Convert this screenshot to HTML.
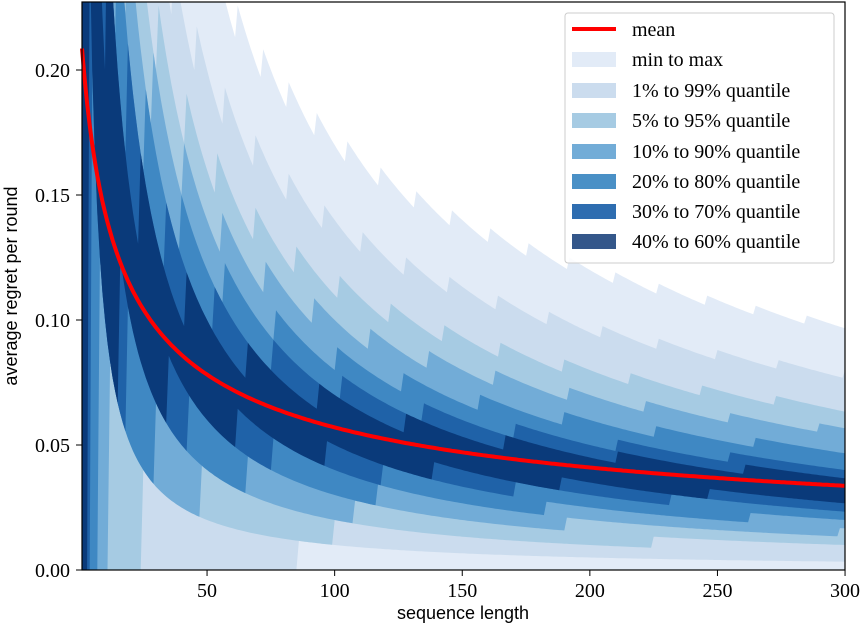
<!DOCTYPE html>
<html><head><meta charset="utf-8"><style>
html,body{margin:0;padding:0;background:#fff;}
svg{display:block;}
</style></head><body>
<svg id="s" width="863" height="633" xmlns="http://www.w3.org/2000/svg">
<g id="bands"></g>
<path id="mean" fill="none" stroke="#ff0000" stroke-width="4"/>
<rect x="82" y="2" width="763" height="568" fill="none" stroke="#000" stroke-width="1.2"/>
<g id="ticks" font-family="Liberation Serif, serif" font-size="20" fill="#000"></g>
<text x="463" y="619" font-family="Liberation Sans, sans-serif" font-size="18" text-anchor="middle">sequence length</text>
<text transform="translate(17,286) rotate(-90)" font-family="Liberation Sans, sans-serif" font-size="18" text-anchor="middle">average regret per round</text>
<g font-family="Liberation Serif, serif" font-size="20">
<rect x="565" y="13" width="269" height="250" rx="3" fill="#fff" fill-opacity="0.85" stroke="#ccc"/>
<line x1="572" y1="29" x2="616" y2="29" stroke="#ff0000" stroke-width="4"/>
<text x="632" y="36">mean</text>
<rect x="572" y="52" width="44" height="15" fill="#e2ebf7"/><text x="632" y="66">min to max</text>
<rect x="572" y="83" width="44" height="15" fill="#cbdcee"/><text x="632" y="97">1% to 99% quantile</text>
<rect x="572" y="113" width="44" height="15" fill="#a6cbe3"/><text x="632" y="127">5% to 95% quantile</text>
<rect x="572" y="144" width="44" height="15" fill="#72acd7"/><text x="632" y="158">10% to 90% quantile</text>
<rect x="572" y="174" width="44" height="15" fill="#4a90c6"/><text x="632" y="188">20% to 80% quantile</text>
<rect x="572" y="204" width="44" height="15" fill="#2e6db0"/><text x="632" y="218">30% to 70% quantile</text>
<rect x="572" y="234" width="44" height="15" fill="#34578a"/><text x="632" y="248">40% to 60% quantile</text>
</g>
</svg>
<script>
var X=function(n){return 79.45+2.552*n;};
var Y=function(v){return 570-2500*v;};
var bands=[
 [1.66,0,'#e2ebf7'],
 [1.33,0.108,'#cbdcee'],
 [1.09,0.2,'#a6cbe3'],
 [0.94,0.29,'#72acd7'],
 [0.80,0.37,'#3f88c3'],
 [0.69,0.46,'#1f62a8'],
 [0.62,0.51,'#0a3a7a']
];
var g=document.getElementById('bands'),ns='http://www.w3.org/2000/svg';
bands.forEach(function(b){
 var up=[],lo=[];
 for(var n=1;n<=300;n++){
  var u=Math.ceil(b[0]*Math.sqrt(n))/n; if(u>0.3)u=0.3;
  var l=b[1]>0?Math.floor(b[1]*Math.sqrt(n))/n:0;
  up.push(X(n).toFixed(1)+','+Y(u).toFixed(1));
  lo.push(X(n).toFixed(1)+','+Y(l).toFixed(1));
 }
 var p=document.createElementNS(ns,'path');
 p.setAttribute('d','M'+up.join('L')+'L'+lo.reverse().join('L')+'Z');
 p.setAttribute('fill',b[2]);
 g.appendChild(p);
});
var m=[];
for(var n=1;n<=300;n++){m.push(X(n).toFixed(1)+','+Y(0.59/Math.sqrt(n+7)).toFixed(1));}
document.getElementById('mean').setAttribute('d','M'+m.join('L'));
var w=document.createElementNS(ns,'rect');w.setAttribute('x',0);w.setAttribute('y',0);w.setAttribute('width',863);w.setAttribute('height',2);w.setAttribute('fill','#fff');g.appendChild(w);
var t=document.getElementById('ticks'),h='';
[50,100,150,200,250,300].forEach(function(v){var x=X(v);h+='<line x1="'+x+'" y1="570" x2="'+x+'" y2="576" stroke="#000"/><text x="'+x+'" y="597" text-anchor="middle">'+v+'</text>';});
[0,0.05,0.1,0.15,0.2].forEach(function(v){var y=Y(v);h+='<line x1="76" y1="'+y+'" x2="82" y2="'+y+'" stroke="#000"/><text x="70" y="'+(y+7)+'" text-anchor="end">'+v.toFixed(2)+'</text>';});
t.innerHTML=h;
</script>
</body></html>
